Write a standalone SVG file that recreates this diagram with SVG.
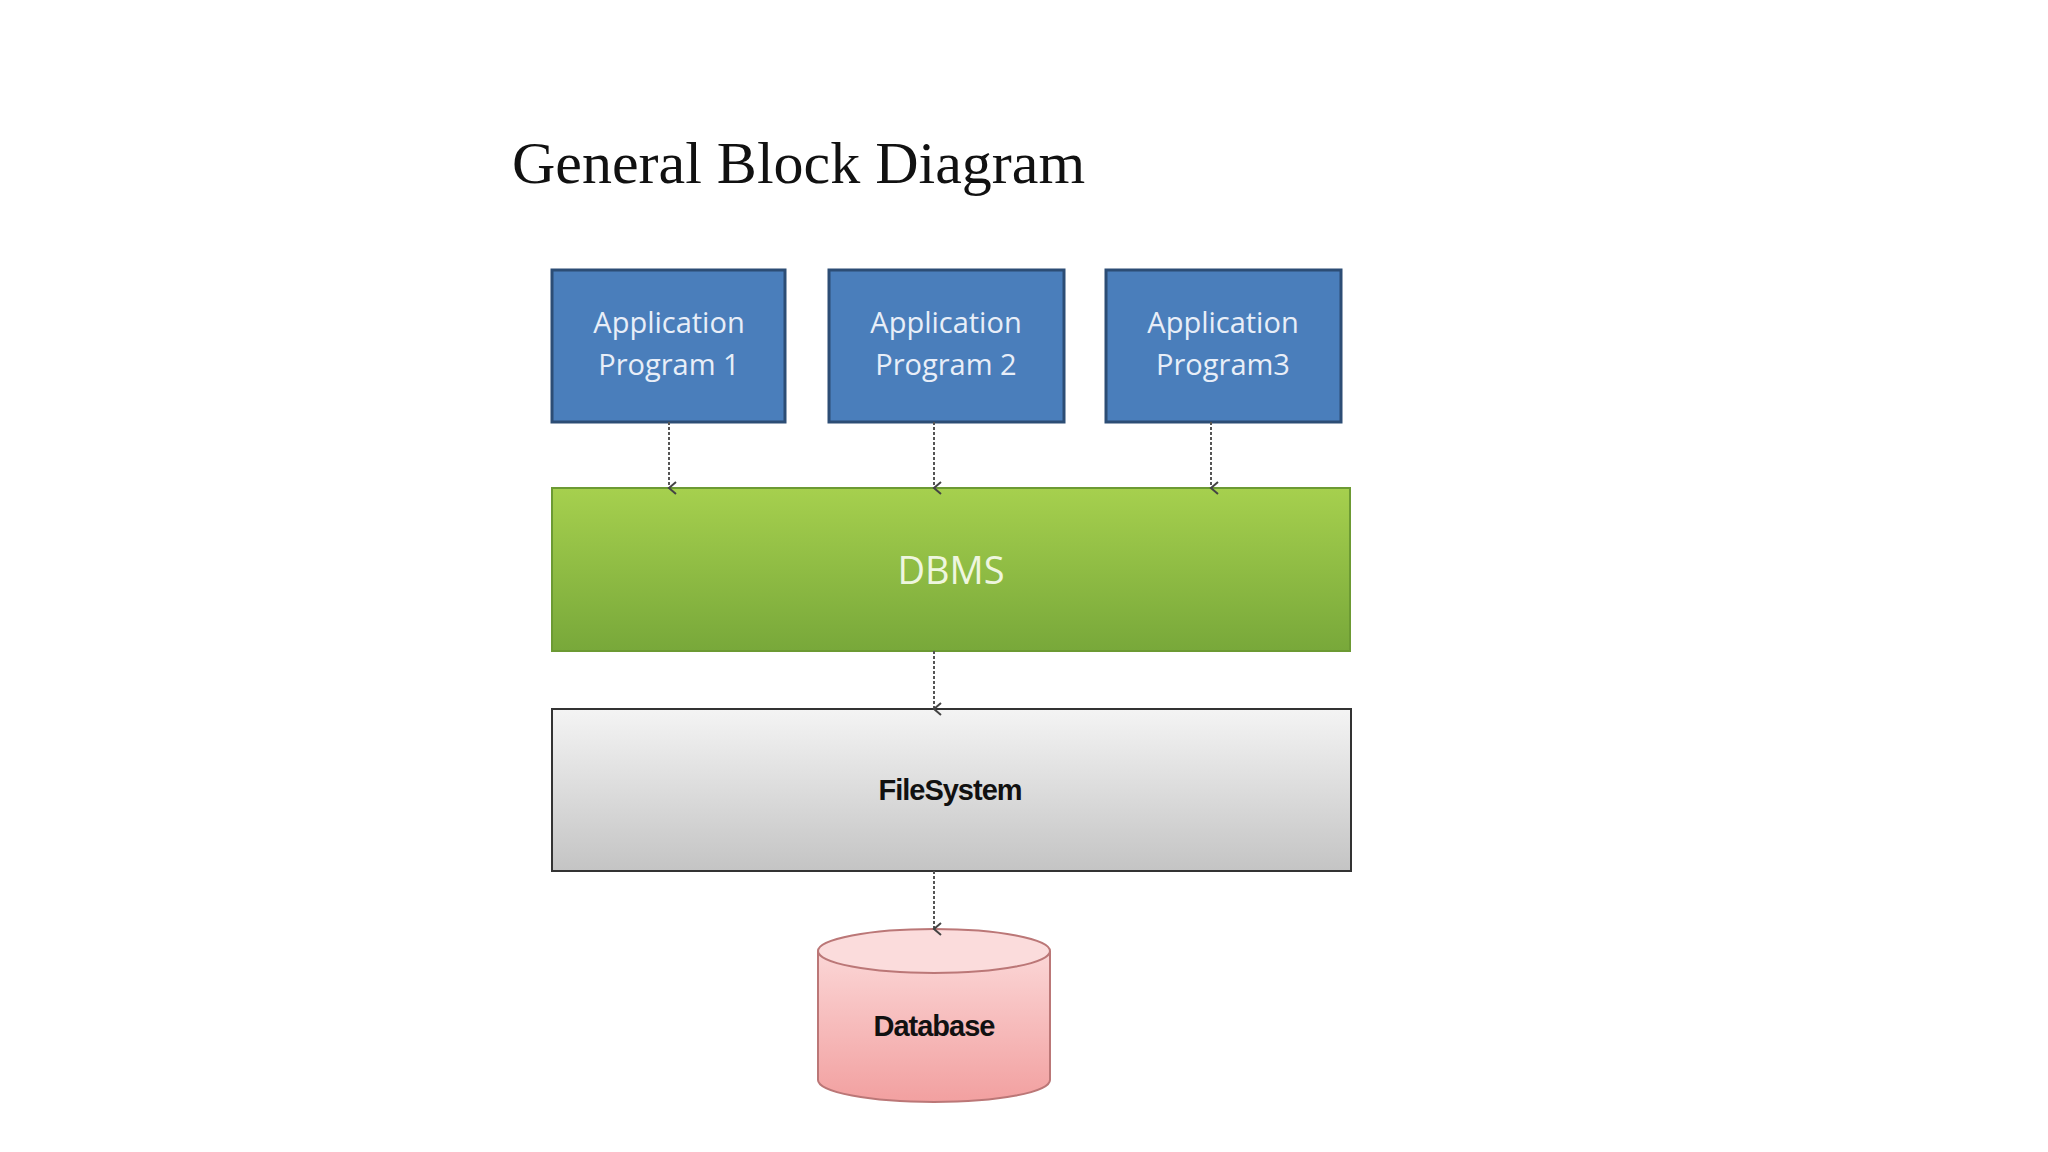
<svg xmlns="http://www.w3.org/2000/svg" width="2048" height="1152" viewBox="0 0 2048 1152">
<style>
.app{fill:#4a7ebb;stroke:#2c4d75;stroke-width:3}
.at{font-family:"Open Sans","DejaVu Sans",sans-serif;font-size:29px;fill:#e8eef8;text-anchor:middle}
.bt{font-family:"Liberation Sans",Arial,sans-serif;font-size:29px;font-weight:bold;fill:#111;text-anchor:middle;letter-spacing:-1px}
.conn{stroke:#555;stroke-width:2;stroke-dasharray:3 2;fill:none;marker-end:url(#ah)}
</style>
<defs>
<marker id="ah" markerWidth="14" markerHeight="12" refX="7" refY="10" orient="auto" markerUnits="userSpaceOnUse" viewBox="0 0 14 12">
<path d="M1 3 L7 10 L13 3" fill="none" stroke="#444" stroke-width="2"/>
</marker>
<linearGradient id="g" x1="0" y1="0" x2="0" y2="1"><stop offset="0" stop-color="#a6d04e"/><stop offset="1" stop-color="#78a83a"/></linearGradient>
<linearGradient id="gr" x1="0" y1="0" x2="0" y2="1"><stop offset="0" stop-color="#f4f4f4"/><stop offset="1" stop-color="#c4c4c4"/></linearGradient>
<linearGradient id="pk" x1="0" y1="0" x2="0" y2="1"><stop offset="0" stop-color="#fbd6d6"/><stop offset="1" stop-color="#f2a0a0"/></linearGradient>
</defs>
<rect width="2048" height="1152" fill="#fff"/>
<text x="512" y="183" font-family="Liberation Serif,serif" font-size="60" fill="#111">General Block Diagram</text>
<g id="app1"><rect class="app" x="552" y="270" width="233" height="152"/><text class="at" x="669" y="333">Application</text><text class="at" x="669" y="375">Program 1</text></g>
<g id="app2"><rect class="app" x="829" y="270" width="235" height="152"/><text class="at" x="946" y="333">Application</text><text class="at" x="946" y="375">Program 2</text></g>
<g id="app3"><rect class="app" x="1106" y="270" width="235" height="152"/><text class="at" x="1223" y="333">Application</text><text class="at" x="1223" y="375">Program3</text></g>
<g id="dbms"><rect x="552" y="488" width="798" height="163" fill="url(#g)" stroke="#6c9a33" stroke-width="2"/><text x="951" y="584" font-family="Open Sans,sans-serif" font-size="38" fill="#eef6df" text-anchor="middle">DBMS</text></g>
<g id="fs"><rect x="552" y="709" width="799" height="162" fill="url(#gr)" stroke="#333" stroke-width="2"/><text class="bt" x="950" y="800">FileSystem</text></g>
<g id="db"><path d="M818 951 V1080 A116 22 0 0 0 1050 1080 V951" fill="url(#pk)" stroke="#b77" stroke-width="2"/><ellipse cx="934" cy="951" rx="116" ry="22" fill="#fbdcdc" stroke="#b77" stroke-width="2"/><text class="bt" x="934" y="1036">Database</text></g>
<g id="connectors">
<line class="conn" x1="669" y1="422" x2="669" y2="488"/>
<line class="conn" x1="934" y1="422" x2="934" y2="488"/>
<line class="conn" x1="1211" y1="422" x2="1211" y2="488"/>
<line class="conn" x1="934" y1="651" x2="934" y2="709"/>
<line class="conn" x1="934" y1="871" x2="934" y2="929"/>
</g>
</svg>
